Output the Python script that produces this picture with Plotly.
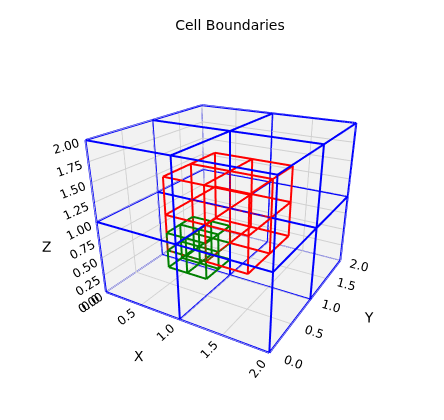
import plotly.graph_objects as go
import numpy as np

# cell levels: origin, cell size, cells per side, colour
level_names = ["blue", "red", "green"]
level_origins = [[0, 0, 0], [0.5, 0.5, 0.5], [0.5, 0.5, 0.25]]
level_cell_sizes = [1.0, 0.5, 0.25]
level_counts = [2, 2, 2]
level_colors = ["blue", "red", "green"]
tick_vals = [0.0, 0.5, 1.0, 1.5, 2.0]
z_ticks = [0.0, 0.25, 0.5, 0.75, 1.0, 1.25, 1.5, 1.75, 2.0]

fig = go.Figure()
for o, s, n, c in zip(level_origins, level_cell_sizes, level_counts, level_colors):
    xs, ys, zs = [], [], []
    g = [np.array(o[k]) + s * np.arange(n + 1) for k in range(3)]
    for a in g[0]:
        for b in g[1]:
            xs += [a, a, None]; ys += [b, b, None]; zs += [g[2][0], g[2][-1], None]
    for a in g[0]:
        for b in g[2]:
            xs += [a, a, None]; ys += [g[1][0], g[1][-1], None]; zs += [b, b, None]
    for a in g[1]:
        for b in g[2]:
            xs += [g[0][0], g[0][-1], None]; ys += [a, a, None]; zs += [b, b, None]
    fig.add_trace(go.Scatter3d(x=xs, y=ys, z=zs, mode="lines",
                               line=dict(color=c, width=4), showlegend=False))

ax = dict(showbackground=True, backgroundcolor="#f2f2f2", gridcolor="#d0d0d0",
          range=[0, 2], tickfont=dict(size=12), zeroline=False)
fig.update_layout(
    width=444, height=420, paper_bgcolor="white",
    margin=dict(l=0, r=0, t=30, b=0),
    title=dict(text="Cell Boundaries", x=0.5, y=0.97, font=dict(size=14, color="black")),
    font=dict(family="DejaVu Sans", color="black"),
    scene=dict(
        xaxis=dict(ax, title="X", tickvals=tick_vals, tickformat=".1f"),
        yaxis=dict(ax, title="Y", tickvals=tick_vals, tickformat=".1f"),
        zaxis=dict(ax, title="Z", tickvals=z_ticks, tickformat=".2f"),
        aspectmode="manual", aspectratio=dict(x=1, y=1, z=0.85),
        camera=dict(eye=dict(x=1.2, y=-2.05, z=1.0), center=dict(x=0, y=0, z=-0.15),
                    projection=dict(type="perspective")),
    ),
)
fig.write_html("out.html")
